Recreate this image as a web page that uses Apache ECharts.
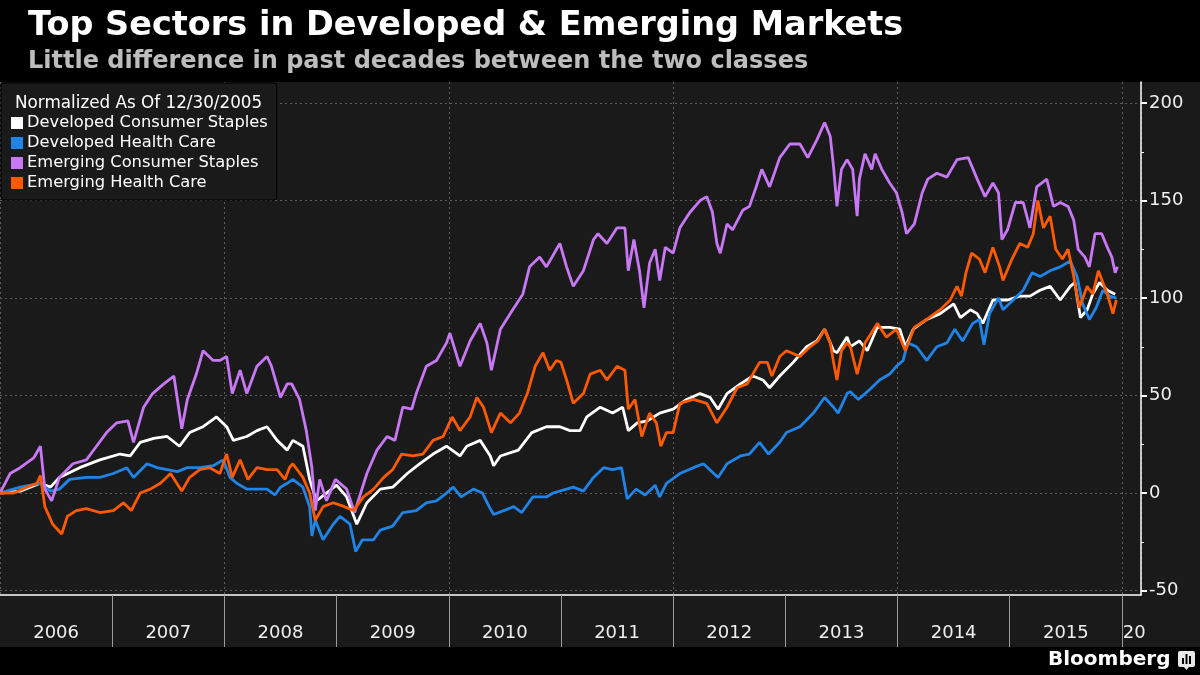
<!DOCTYPE html>
<html>
<head>
<meta charset="utf-8">
<title>Top Sectors in Developed &amp; Emerging Markets</title>
<script src="https://cdn.jsdelivr.net/npm/echarts@6.0.0/dist/echarts.min.js"></script>
<style>
  html, body { margin: 0; padding: 0; background: #000; }
  #chart { width: 1200px; height: 675px; }
</style>
</head>
<body>
<div id="chart"></div>
<script>
  // [year, % change since 12/30/2005]
  const devStaples = [
    [2006.00,0],[2006.18,1],[2006.36,5],[2006.45,3],[2006.53,8],[2006.71,13],[2006.89,17],[2007.07,20],[2007.16,19],[2007.25,26],
    [2007.37,28],[2007.49,29],[2007.60,24],[2007.69,31],[2007.81,34],[2007.93,39],[2008.02,34],[2008.08,27],[2008.20,29],[2008.29,32],
    [2008.38,34],[2008.47,27],[2008.56,22],[2008.61,27],[2008.70,24],[2008.76,7],[2008.82,-4],[2008.91,0],[2009.00,4],[2009.09,-2],
    [2009.18,-16],[2009.27,-5],[2009.39,2],[2009.50,3],[2009.63,10],[2009.74,15],[2009.86,20],[2009.98,24],[2010.10,19],[2010.16,24],
    [2010.28,27],[2010.37,19],[2010.40,14],[2010.46,19],[2010.62,22],[2010.74,31],[2010.87,34],[2010.99,34],[2011.08,32],[2011.17,32],
    [2011.23,39],[2011.35,44],[2011.46,41],[2011.55,44],[2011.60,32],[2011.68,36],[2011.77,37],[2011.88,41],[2012.00,43],[2012.12,48],
    [2012.24,51],[2012.33,49],[2012.40,43],[2012.48,51],[2012.60,56],[2012.71,60],[2012.80,58],[2012.86,54],[2012.95,60],[2013.07,67],
    [2013.19,75],[2013.28,78],[2013.35,84],[2013.43,73],[2013.46,72],[2013.55,80],[2013.58,75],[2013.66,78],[2013.73,73],[2013.82,85],
    [2013.93,85],[2014.02,84],[2014.07,75],[2014.14,84],[2014.26,89],[2014.38,92],[2014.50,97],[2014.56,90],[2014.65,94],[2014.71,92],
    [2014.76,87],[2014.85,99],[2014.98,99],[2015.09,101],[2015.18,101],[2015.27,104],[2015.36,106],[2015.45,99],[2015.54,106],[2015.58,108],
    [2015.63,90],[2015.69,94],[2015.74,102],[2015.80,108],[2015.87,104],[2015.94,102]
  ];
  const devHealth = [
    [2006.00,0],[2006.18,3],[2006.36,5],[2006.45,1],[2006.53,2],[2006.62,7],[2006.77,8],[2006.89,8],[2007.01,10],[2007.13,13],
    [2007.19,8],[2007.31,15],[2007.40,13],[2007.49,12],[2007.58,11],[2007.67,13],[2007.78,13],[2007.90,14],[2007.99,17],[2008.05,8],
    [2008.11,5],[2008.20,2],[2008.29,2],[2008.38,2],[2008.45,-1],[2008.50,3],[2008.56,5],[2008.61,7],[2008.70,3],[2008.76,-7],
    [2008.78,-22],[2008.81,-14],[2008.88,-24],[2008.97,-16],[2009.03,-12],[2009.12,-16],[2009.17,-30],[2009.23,-24],[2009.33,-24],[2009.39,-19],
    [2009.50,-17],[2009.59,-10],[2009.71,-9],[2009.80,-5],[2009.89,-4],[2009.98,0],[2010.04,3],[2010.11,-2],[2010.22,2],[2010.30,0],
    [2010.36,-7],[2010.40,-11],[2010.49,-9],[2010.58,-7],[2010.65,-10],[2010.75,-2],[2010.87,-2],[2010.93,0],[2011.05,2],[2011.11,3],
    [2011.20,1],[2011.29,8],[2011.38,13],[2011.46,12],[2011.54,13],[2011.59,-3],[2011.67,2],[2011.75,-1],[2011.84,4],[2011.88,-2],
    [2011.94,5],[2012.06,10],[2012.18,13],[2012.27,15],[2012.40,8],[2012.48,15],[2012.60,19],[2012.68,20],[2012.77,26],[2012.85,20],
    [2012.95,26],[2013.01,31],[2013.13,34],[2013.25,41],[2013.35,49],[2013.43,44],[2013.47,41],[2013.55,51],[2013.58,52],[2013.65,48],
    [2013.75,53],[2013.84,58],[2013.93,61],[2013.99,65],[2014.05,68],[2014.09,77],[2014.17,75],[2014.26,68],[2014.35,75],[2014.44,77],
    [2014.51,84],[2014.58,78],[2014.67,87],[2014.73,89],[2014.77,76],[2014.82,92],[2014.90,100],[2014.94,94],[2015.03,99],[2015.12,104],
    [2015.20,113],[2015.27,111],[2015.36,114],[2015.45,116],[2015.54,119],[2015.60,111],[2015.65,97],[2015.71,89],[2015.77,95],[2015.83,104],
    [2015.89,101],[2015.95,100]
  ];
  const emStaples = [
    [2006.00,0],[2006.09,10],[2006.18,13],[2006.30,18],[2006.36,24],[2006.40,2],[2006.46,-4],[2006.53,8],[2006.65,15],[2006.77,17],
    [2006.86,24],[2006.95,31],[2007.04,36],[2007.14,37],[2007.19,26],[2007.28,44],[2007.36,51],[2007.46,56],[2007.55,60],[2007.62,33],
    [2007.67,48],[2007.75,61],[2007.81,73],[2007.90,68],[2007.96,68],[2008.02,70],[2008.07,51],[2008.14,63],[2008.20,51],[2008.29,65],
    [2008.38,70],[2008.42,65],[2008.50,49],[2008.56,56],[2008.60,56],[2008.67,48],[2008.73,32],[2008.78,13],[2008.81,-9],[2008.85,7],
    [2008.91,-4],[2008.99,7],[2009.09,2],[2009.16,-10],[2009.27,10],[2009.36,22],[2009.45,29],[2009.52,27],[2009.59,44],[2009.67,43],
    [2009.71,51],[2009.80,65],[2009.89,68],[2009.98,77],[2010.01,82],[2010.10,65],[2010.19,78],[2010.28,87],[2010.34,77],[2010.38,63],
    [2010.46,84],[2010.57,94],[2010.66,102],[2010.72,116],[2010.81,121],[2010.87,116],[2010.99,128],[2011.05,116],[2011.11,106],[2011.20,114],
    [2011.29,130],[2011.33,133],[2011.41,128],[2011.50,136],[2011.57,136],[2011.60,114],[2011.65,130],[2011.70,114],[2011.74,95],[2011.79,118],
    [2011.84,125],[2011.88,109],[2011.93,126],[2012.00,123],[2012.06,136],[2012.15,144],[2012.24,150],[2012.30,152],[2012.35,144],[2012.39,128],
    [2012.42,123],[2012.48,138],[2012.53,135],[2012.62,145],[2012.68,147],[2012.74,157],[2012.79,166],[2012.86,157],[2012.95,172],[2013.04,179],
    [2013.13,179],[2013.20,172],[2013.28,181],[2013.35,190],[2013.40,183],[2013.43,167],[2013.46,147],[2013.50,166],[2013.55,171],[2013.60,166],
    [2013.64,142],[2013.66,161],[2013.71,174],[2013.77,166],[2013.80,174],[2013.86,166],[2013.93,159],[2013.99,154],[2014.04,144],[2014.08,133],
    [2014.15,138],[2014.22,154],[2014.27,161],[2014.35,164],[2014.44,162],[2014.53,171],[2014.63,172],[2014.71,161],[2014.78,152],[2014.85,159],
    [2014.90,154],[2014.93,130],[2014.98,135],[2015.05,149],[2015.12,149],[2015.18,136],[2015.24,157],[2015.33,161],[2015.39,147],[2015.45,149],
    [2015.52,147],[2015.57,140],[2015.61,125],[2015.67,121],[2015.71,116],[2015.76,133],[2015.82,133],[2015.87,126],[2015.91,121],[2015.94,113],
    [2015.96,116]
  ];
  const emHealth = [
    [2006.00,0],[2006.12,0],[2006.24,3],[2006.33,5],[2006.36,9],[2006.40,-7],[2006.47,-16],[2006.55,-21],[2006.60,-12],[2006.68,-9],
    [2006.77,-8],[2006.89,-10],[2007.01,-9],[2007.10,-5],[2007.17,-9],[2007.25,0],[2007.34,2],[2007.43,5],[2007.52,10],[2007.62,1],
    [2007.69,8],[2007.78,12],[2007.87,13],[2007.96,10],[2008.02,20],[2008.07,8],[2008.14,17],[2008.21,7],[2008.29,13],[2008.38,12],
    [2008.47,12],[2008.54,7],[2008.58,13],[2008.61,15],[2008.70,8],[2008.76,0],[2008.81,-14],[2008.88,-7],[2008.97,-5],[2009.07,-7],
    [2009.15,-9],[2009.24,-2],[2009.33,2],[2009.42,8],[2009.50,12],[2009.58,20],[2009.68,19],[2009.77,20],[2009.86,27],[2009.95,29],
    [2010.03,39],[2010.10,32],[2010.19,39],[2010.25,49],[2010.31,44],[2010.38,31],[2010.46,41],[2010.55,36],[2010.63,41],[2010.70,51],
    [2010.77,65],[2010.84,72],[2010.90,63],[2010.96,68],[2011.00,67],[2011.05,58],[2011.11,46],[2011.20,51],[2011.26,61],[2011.35,63],
    [2011.41,58],[2011.50,65],[2011.57,63],[2011.60,43],[2011.66,48],[2011.72,29],[2011.79,41],[2011.85,36],[2011.89,24],[2011.94,31],
    [2012.00,31],[2012.06,46],[2012.18,48],[2012.30,46],[2012.39,36],[2012.48,44],[2012.57,54],[2012.66,56],[2012.77,67],[2012.84,67],
    [2012.88,60],[2012.95,70],[2013.01,73],[2013.13,70],[2013.22,75],[2013.29,78],[2013.35,84],[2013.40,77],[2013.43,67],[2013.46,58],
    [2013.50,73],[2013.55,77],[2013.58,75],[2013.64,61],[2013.71,77],[2013.82,87],[2013.90,80],[2013.99,84],[2014.07,73],[2014.15,85],
    [2014.26,89],[2014.38,94],[2014.47,99],[2014.53,106],[2014.57,101],[2014.61,113],[2014.66,123],[2014.73,120],[2014.78,113],[2014.85,126],
    [2014.91,116],[2014.94,109],[2015.02,120],[2015.09,128],[2015.16,126],[2015.21,133],[2015.25,150],[2015.30,136],[2015.36,142],[2015.41,125],
    [2015.47,120],[2015.52,125],[2015.57,111],[2015.62,95],[2015.69,106],[2015.74,102],[2015.79,114],[2015.87,102],[2015.92,92],[2015.95,99]
  ];

  const seriesNames = ['Developed Consumer Staples', 'Developed Health Care', 'Emerging Consumer Staples', 'Emerging Health Care'];
  const seriesColors = ['#ffffff', '#1f84e6', '#c878f5', '#ff5a00'];
  const yearBreaks = [2007, 2008, 2009, 2010, 2011, 2012, 2013, 2014, 2015, 2016];
  const yearLabels = [2006, 2007, 2008, 2009, 2010, 2011, 2012, 2013, 2014, 2015, 2016];
  const valueTicks = [-50, 0, 50, 100, 150, 200];
  const minorTicks = [-25, 25, 75, 125, 175];

  const font = 'DejaVu Sans';
  const xMin = 2006, xMax = 2016.17;
  const yMin = -52.3, yMax = 210.8;

  // year labels sit in the middle of each year, the last one is cut off at the edge
  const labelPos = yearLabels.map(y => (y < 2016 ? y + 0.5 : 2016.11));

  const chart = echarts.init(document.getElementById('chart'));

  chart.setOption({
    backgroundColor: '#1a1a1a',
    animation: false,
    title: [
      {
        text: 'Top Sectors in Developed & Emerging Markets',
        left: 23, top: 4,
        textStyle: { color: '#ffffff', fontSize: 33.5, fontWeight: 'bold', fontFamily: font }
      },
      {
        text: 'Little difference in past decades between the two classes',
        left: 23, top: 45,
        textStyle: { color: '#bdbdbd', fontSize: 24, fontWeight: 'bold', fontFamily: font }
      }
    ],
    legend: {
      data: seriesNames,
      orient: 'vertical',
      left: 1, top: 83,
      padding: [32, 9, 9, 10],
      itemGap: 4,
      itemWidth: 12, itemHeight: 12,
      icon: 'rect',
      backgroundColor: '#1a1a1a',
      borderColor: '#000',
      borderWidth: 1,
      borderRadius: 3,
      textStyle: { color: '#ffffff', fontSize: 16.3, fontFamily: font, padding: [0, 0, 0, -1] }
    },
    grid: { left: 0, right: 59, top: 82, bottom: 80 },
    xAxis: [
      {
        type: 'value', min: xMin, max: xMax,
        axisLine: { onZero: false, lineStyle: { color: '#ffffff', width: 1.5 } },
        axisTick: { customValues: yearBreaks, length: 52, lineStyle: { color: '#9a9a9a', width: 1 } },
        axisLabel: {
          customValues: labelPos,
          formatter: v => (v > 2016 ? '20' : String(Math.floor(v))),
          color: '#eeeeee', fontSize: 18, fontFamily: font, margin: 29
        },
        splitLine: { show: false }
      },
      {
        // every second year gets a dashed grid line
        type: 'value', min: xMin, max: xMax, interval: 2,
        axisLine: { show: false, onZero: false }, axisTick: { show: false }, axisLabel: { show: false },
        splitLine: { show: true, lineStyle: { color: '#5c5c5c', type: [2, 3], width: 1 } }
      }
    ],
    yAxis: [
      {
        type: 'value', position: 'right', min: yMin, max: yMax,
        axisLine: { show: true, onZero: false, lineStyle: { color: '#ffffff', width: 1.5 } },
        axisTick: { show: true, customValues: valueTicks, length: 6, lineStyle: { color: '#ffffff', width: 2 } },
        axisLabel: {
          customValues: valueTicks,
          color: '#eeeeee', fontSize: 18, fontFamily: font, margin: 8
        },
        splitLine: { show: true, lineStyle: { color: '#5c5c5c', type: [2, 3], width: 1 } }
      },
      {
        type: 'value', position: 'right', min: yMin, max: yMax,
        axisLine: { show: false, onZero: false },
        axisTick: { show: true, customValues: minorTicks, length: 3, lineStyle: { color: '#ffffff', width: 1 } },
        axisLabel: { show: false },
        splitLine: { show: false }
      }
    ],
    series: [devStaples, devHealth, emStaples, emHealth].map((d, i) => ({
      name: seriesNames[i],
      type: 'line',
      data: d,
      showSymbol: false,
      symbol: 'none',
      lineStyle: { color: seriesColors[i], width: 2.8 },
      itemStyle: { color: seriesColors[i] }
    })),
    graphic: [
      { type: 'rect', z: 0, shape: { x: 0, y: 0, width: 1200, height: 82 }, style: { fill: '#000' } },
      { type: 'rect', z: 0, shape: { x: 0, y: 647, width: 1200, height: 28 }, style: { fill: '#000' } },
      {
        type: 'text', z: 100, left: 15, top: 95,
        style: { text: 'Normalized As Of 12/30/2005', fill: '#ffffff', font: '16.8px "DejaVu Sans"' }
      },
      {
        type: 'text', z: 100, left: 1048, top: 650,
        style: { text: 'Bloomberg', fill: '#ffffff', font: 'bold 20px "DejaVu Sans"' }
      },
      {
        type: 'group', z: 100, left: 1178, top: 651,
        children: [
          { type: 'rect', shape: { x: 0, y: 0, width: 17, height: 16, r: 2 }, style: { fill: '#e8e8e8' } },
          { type: 'polygon', shape: { points: [[6, 16], [11, 16], [8.5, 19]] }, style: { fill: '#e8e8e8' } },
          { type: 'rect', shape: { x: 4, y: 7, width: 2, height: 6 }, style: { fill: '#000' } },
          { type: 'rect', shape: { x: 7.5, y: 3, width: 2, height: 10 }, style: { fill: '#000' } },
          { type: 'rect', shape: { x: 11, y: 5, width: 2, height: 8 }, style: { fill: '#000' } }
        ]
      }
    ]
  });
</script>
</body>
</html>
